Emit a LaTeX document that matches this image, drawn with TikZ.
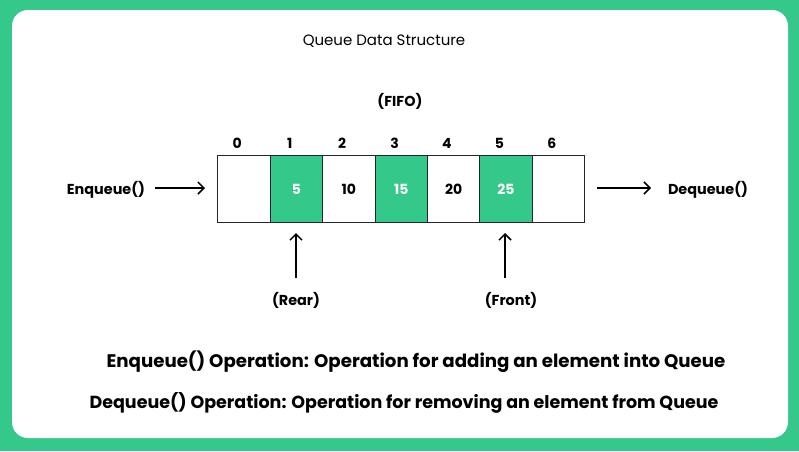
\documentclass[tikz,border=0pt]{standalone}
\usepackage{fontspec}
\setmainfont{Poppins}
\usetikzlibrary{arrows.meta}
\definecolor{qgreen}{HTML}{34C88A}
\begin{document}
\begin{tikzpicture}[x=1pt,y=-1pt,
  cell/.style={draw=black!85,line width=1pt,minimum width=52.4pt,minimum height=66.6pt,inner sep=0pt,anchor=north west,font=\bfseries\fontsize{14}{16}\selectfont},
  gcell/.style={cell,fill=qgreen,text=white},
  idx/.style={font=\bfseries\fontsize{14}{16}\selectfont},
  lbl/.style={font=\bfseries\fontsize{14.4}{17}\selectfont},
  arr/.style={-{Straight Barb[length=6pt,width=12pt]},line width=1.5pt},
  big/.style={font=\bfseries\fontsize{18.2}{21}\selectfont}]
\useasboundingbox (0,0) rectangle (799,451);
\fill[qgreen] (0,0) rectangle (799,451);
\fill[white,rounded corners=16pt] (12,10) rectangle (788,438);
\node (title) at (384,41) {\fontsize{15}{18}\selectfont Queue Data Structure};
\node[lbl] (fifo) at (400,101) {(FIFO)};
\foreach \i/\v/\s in {0//cell,1/5/gcell,2/10/cell,3/15/gcell,4/20/cell,5/25/gcell,6//cell}{
  \node[\s] (c\i) at ({217.3+52.4*\i},155.2) {\v};
  \node[idx] (i\i) at ({217.3+52.4*\i+20},143) {\i};
}
\node[lbl] (enq) at (106,190) {Enqueue()};
\node[lbl] (deq) at (708,190) {Dequeue()};
\coordinate (ea) at (155,188);
\coordinate (eb) at (205,188);
\coordinate (da) at (597,188);
\coordinate (db) at (651,188);
\draw[arr] (ea) -- (eb);
\draw[arr] (da) -- (db);
\node[lbl] (rear) at (296,300) {(Rear)};
\node[lbl] (front) at (511,300) {(Front)};
\coordinate (ra) at (296,278);
\coordinate (rb) at (296,233);
\coordinate (fa) at (505,278);
\coordinate (fb) at (505,233);
\draw[arr] (ra) -- (rb);
\draw[arr] (fa) -- (fb);
\node[big] (l1) at (416,362) {Enqueue() Operation: Operation for adding an element into Queue};
\node[big,font=\bfseries\fontsize{17.5}{21}\selectfont] (l2) at (404,403) {Dequeue() Operation: Operation for removing an element from Queue};
\end{tikzpicture}
\end{document}
